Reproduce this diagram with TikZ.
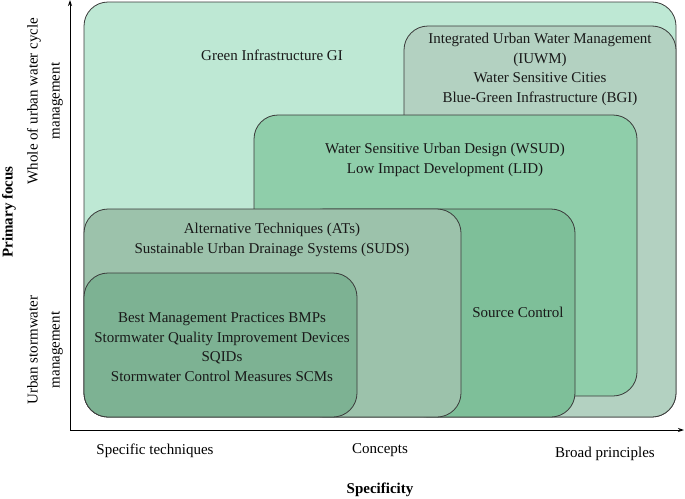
\documentclass[tikz,border=0pt]{standalone}
\usepackage{fontspec}
\setmainfont{Liberation Serif}
\usetikzlibrary{arrows.meta}
\definecolor{cGI}{HTML}{BEE8D4}
\definecolor{cIU}{HTML}{B3D1C1}
\definecolor{cWS}{HTML}{8FCEAA}
\definecolor{cAT}{HTML}{9CC2AB}
\definecolor{cSC}{HTML}{7EBF99}
\definecolor{cBM}{HTML}{7DB293}
\definecolor{cEdge}{HTML}{3A3A3A}
\tikzset{
  box/.style={draw=cEdge, line width=0.8pt, rounded corners=24pt},
  lbl/.style={font=\fontsize{15}{19.6}\selectfont, align=center, inner sep=0pt, text=black!90},
  axlbl/.style={font=\fontsize{15}{22}\selectfont, align=center, inner sep=0pt},
  axis/.style={line width=0.9pt, -{Stealth[length=6pt,width=4pt]}}
}
\begin{document}
\begin{tikzpicture}[x=1pt,y=-1pt]
\useasboundingbox (0,0) rectangle (685,498);
% boxes
\draw[box, fill=cGI] (84,2) rectangle (676,417);
\draw[box, fill=cIU] (404,26) rectangle (676,417);
\draw[box, fill=cWS] (254,115) rectangle (637,396);
\draw[box, fill=cSC] (300,209) rectangle (575,417);
\draw[box, fill=cAT] (84,209) rectangle (461,417);
\draw[box, fill=cBM] (84,273) rectangle (357,417);
% box texts
\node[lbl] (gi) at (272,55) {Green Infrastructure GI};
\node[lbl] (iuwm) at (540,69.5) {Integrated Urban Water Management\\(IUWM)\\Water Sensitive Cities\\Blue-Green Infrastructure (BGI)};
\node[lbl] (wsud) at (445,160) {Water Sensitive Urban Design (WSUD)\\Low Impact Development (LID)};
\node[lbl] (ats) at (272,240) {Alternative Techniques (ATs)\\Sustainable Urban Drainage Systems (SUDS)};
\node[lbl] (bmp) at (222,347) {Best Management Practices BMPs\\Stormwater Quality Improvement Devices\\SQIDs\\Stormwater Control Measures SCMs};
\node[lbl] (sc) at (518,312) {Source Control};
% axes
\coordinate (o) at (70,430);
\coordinate (ytop) at (70,0);
\coordinate (xend) at (684,430);
\draw[axis] (o) -- (ytop);
\draw[axis] (o) -- (xend);
% axis labels
\node[axlbl] (st) at (155,451) {Specific techniques};
\node[axlbl] (co) at (380,450) {Concepts};
\node[axlbl] (bp) at (605,454) {Broad principles};
\node[axlbl, font=\fontsize{15}{19}\selectfont\bfseries] (spec) at (380,490) {Specificity};
\node[axlbl, rotate=90, font=\fontsize{15}{19}\selectfont\bfseries] (pf) at (9,212) {Primary focus};
\node[axlbl, rotate=90] (whole) at (45,101) {Whole of urban water cycle\\management};
\node[axlbl, rotate=90] (urban) at (45,350) {Urban stormwater\\management};
\end{tikzpicture}
\end{document}
